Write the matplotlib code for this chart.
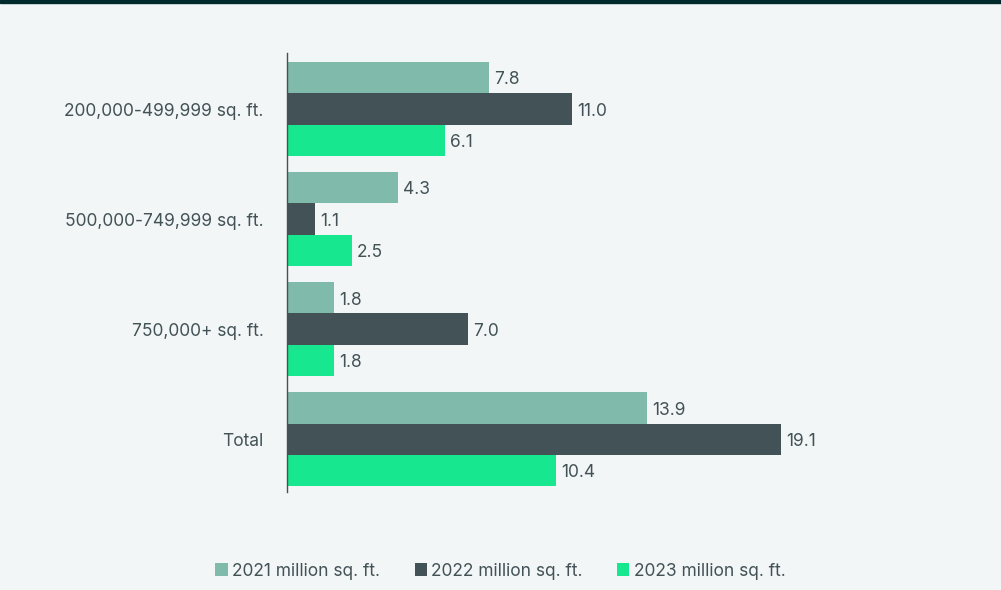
import numpy as np
import matplotlib.pyplot as plt
from matplotlib.patches import Rectangle

categories = ["200,000-499,999 sq. ft.", "500,000-749,999 sq. ft.", "750,000+ sq. ft.", "Total"]
series_names = ["2021 million sq. ft.", "2022 million sq. ft.", "2023 million sq. ft."]
v2021 = [7.8, 4.3, 1.8, 13.9]
v2022 = [11.0, 1.1, 7.0, 19.1]
v2023 = [6.1, 2.5, 1.8, 10.4]
colors = ["#80baab", "#435256", "#17e88f"]

bg = "#f2f6f7"
txt = "#435256"
plt.rcParams['font.family'] = ['Inter', 'DejaVu Sans']

fig = plt.figure(figsize=(10.01, 5.9), dpi=100, facecolor=bg)
ax = fig.add_axes([287/1001, 1-492/590, 613/1001, 439/590])
ax.set_facecolor(bg)

y = np.arange(len(categories))
h = 0.285
for i, (vals, c, name) in enumerate(zip([v2021, v2022, v2023], colors, series_names)):
    bars = ax.barh(y + (i-1)*h, vals, height=h, color=c, label=name)
    for b, v in zip(bars, vals):
        ax.text(b.get_width() + 0.2, b.get_y() + b.get_height()/2 + 0.02, f"{v:.1f}",
                va='center', ha='left', fontsize=12.5, color=txt)

ax.set_ylim(3.48, -0.51)
ax.set_xlim(0, 23.7)
ax.set_yticks(y)
ax.set_yticklabels(categories, fontsize=12.5, color=txt)
ax.tick_params(axis='y', length=0, pad=17)
ax.set_xticks([])
for s in ['top', 'right', 'bottom']:
    ax.spines[s].set_visible(False)
ax.spines['left'].set_color('#435256')
ax.spines['left'].set_linewidth(1)

fig.legend(loc='center', bbox_to_anchor=(0.5, 1-571/590), ncol=3, frameon=False,
           fontsize=12.5, labelcolor=txt, handlelength=0.7, handleheight=0.7,
           handletextpad=0.25, columnspacing=2.0)

fig.add_artist(Rectangle((0, 1-3/590), 1, 3/590, transform=fig.transFigure,
                         color="#012a2d", zorder=10))

fig.savefig("out.png", dpi=100, facecolor=bg)
